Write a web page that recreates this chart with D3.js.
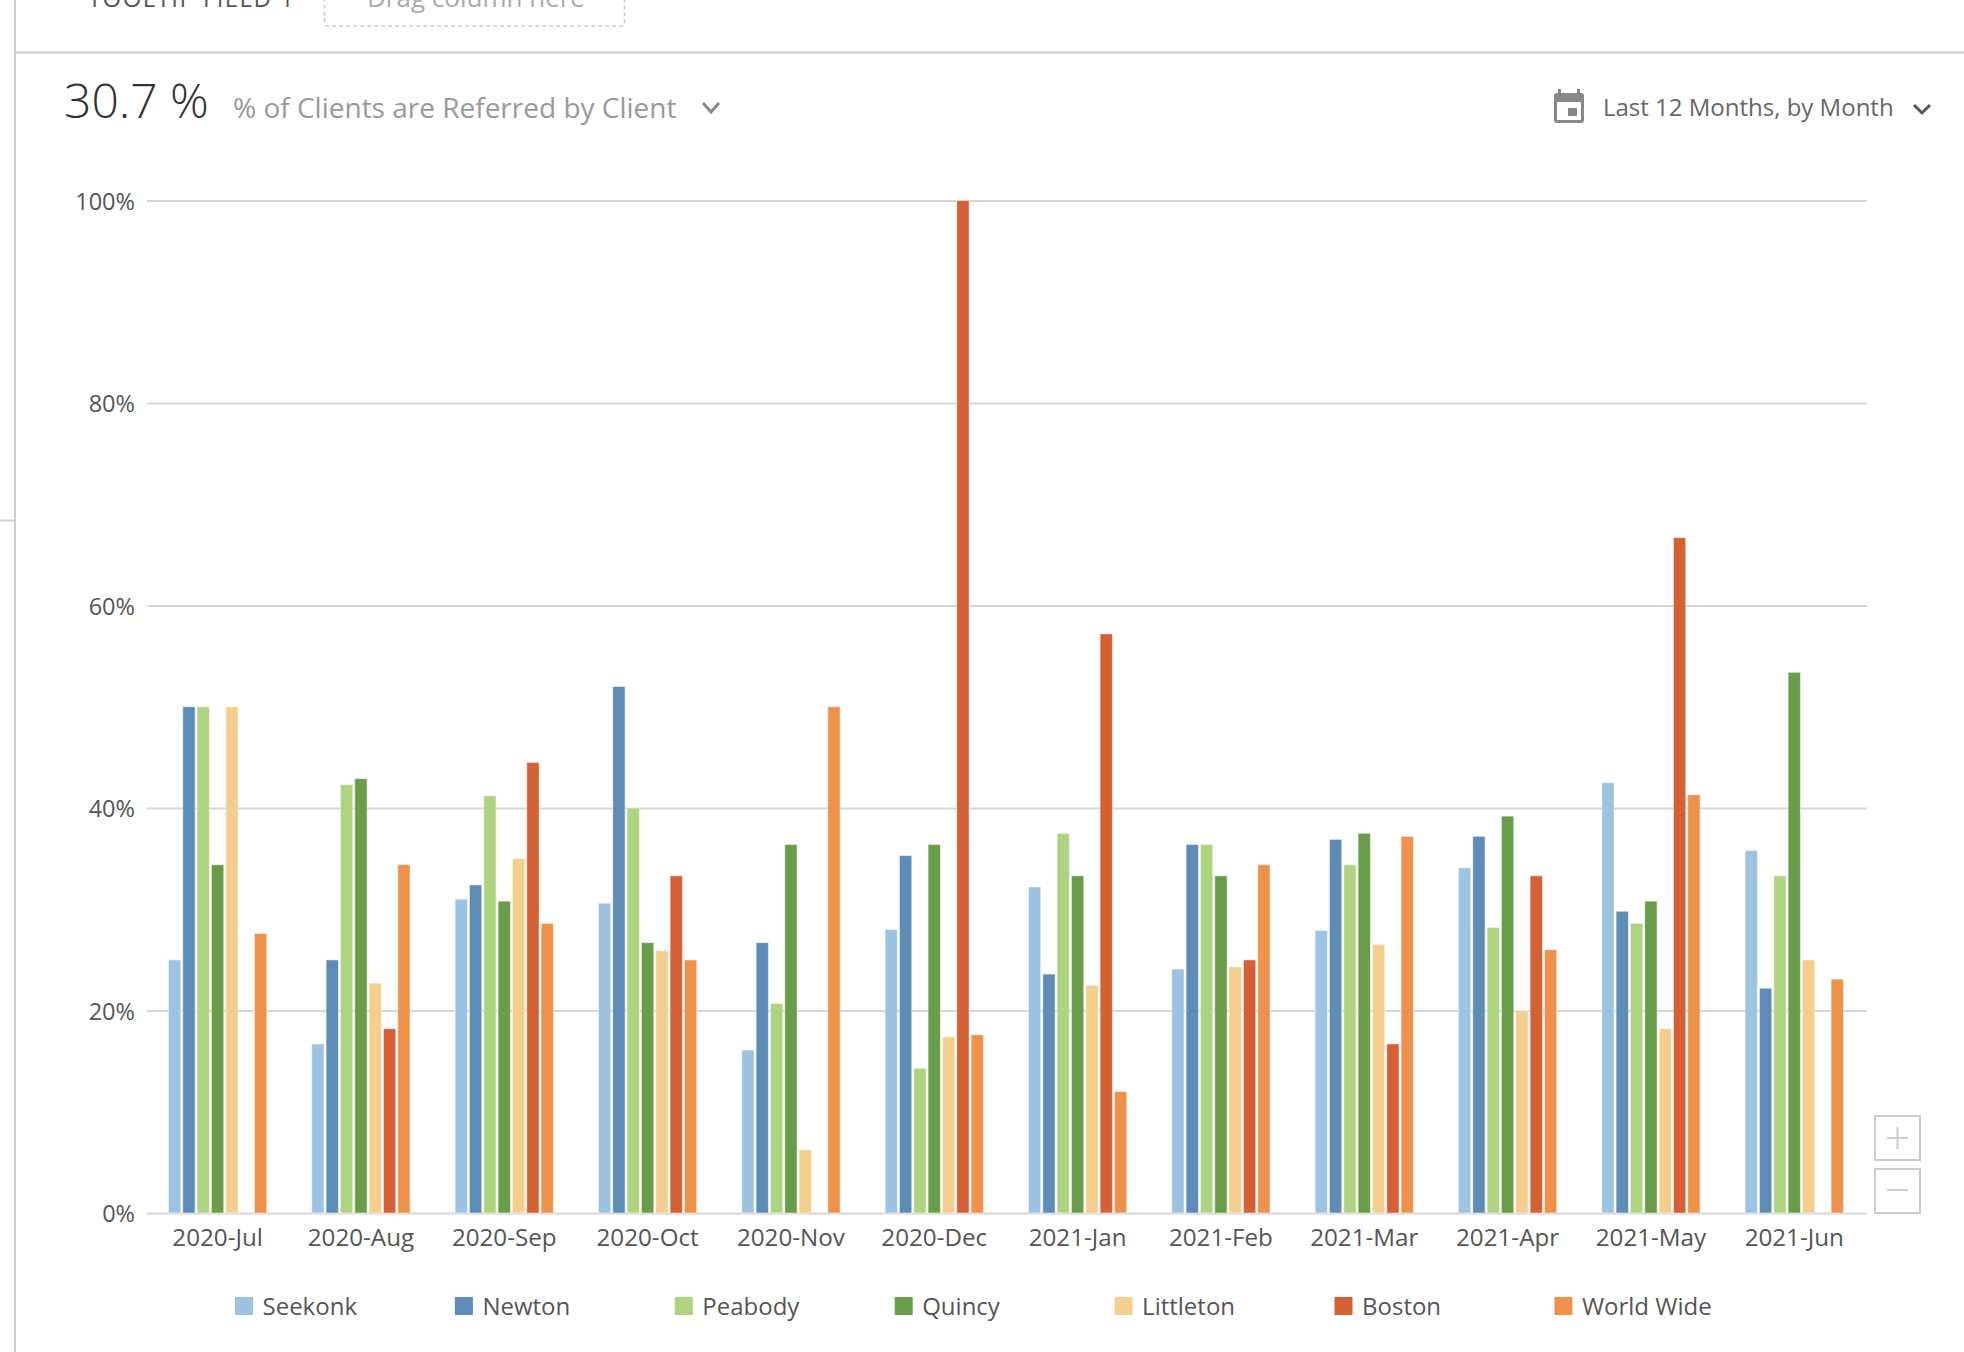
<!DOCTYPE html>
<html>
<head>
<meta charset="utf-8">
<script src="https://cdn.jsdelivr.net/npm/d3@7"></script>
<style>
  html, body { margin: 0; padding: 0; background: #fff; overflow: hidden; }
  text { font-family: "Open Sans", sans-serif; }
</style>
</head>
<body>
<svg id="canvas" width="1964" height="1352"></svg>
<script>
let months = ['2020-Jul', '2020-Aug', '2020-Sep', '2020-Oct', '2020-Nov', '2020-Dec',
              '2021-Jan', '2021-Feb', '2021-Mar', '2021-Apr', '2021-May', '2021-Jun']
let seriesNames = ['Seekonk', 'Newton', 'Peabody', 'Quincy', 'Littleton', 'Boston', 'World Wide']
let seriesColors = ['#9DC3E2', '#5D8CB6', '#AFD47F', '#6A9D4A', '#F5CE8E', '#D56035', '#EE914A']

let seekonk   = [25, 16.7, 31, 30.6, 16.1, 28, 32.2, 24.1, 27.9, 34.1, 42.5, 35.8]
let newton    = [50, 25, 32.4, 52, 26.7, 35.3, 23.6, 36.4, 36.9, 37.2, 29.8, 22.2]
let peabody   = [50, 42.3, 41.2, 40, 20.7, 14.3, 37.5, 36.4, 34.4, 28.2, 28.6, 33.3]
let quincy    = [34.4, 42.9, 30.8, 26.7, 36.4, 36.4, 33.3, 33.3, 37.5, 39.2, 30.8, 53.4]
let littleton = [50, 22.7, 35, 25.9, 6.25, 17.4, 22.5, 24.3, 26.5, 20, 18.2, 25]
let boston    = [0, 18.2, 44.5, 33.3, 0, 100, 57.2, 25, 16.7, 33.3, 66.7, 0]
let worldWide = [27.6, 34.4, 28.6, 25, 50, 17.6, 12, 34.4, 37.2, 26, 41.3, 23.1]
let seriesValues = [seekonk, newton, peabody, quincy, littleton, boston, worldWide]

let yTicks = [0, 20, 40, 60, 80, 100]

let canvas = d3.select('#canvas')

let plotLeft = 147, plotRight = 1867, plotTop = 200.5, plotBottom = 1213

let x0 = d3.scaleBand()
  .domain(months)
  .range([plotLeft, plotRight])
  .paddingInner(0.3)
  .paddingOuter(0.15)
  .align(0.475)

let x1 = d3.scaleBand()
  .domain(seriesNames)
  .range([0, x0.bandwidth()])
  .paddingInner(0.14)
  .paddingOuter(0.07)

let y = d3.scaleLinear().domain([0, 100]).range([plotBottom, plotTop])

// page chrome
canvas.append('line').attr('x1', 15).attr('x2', 15).attr('y1', 0).attr('y2', 1352)
  .attr('stroke', '#ccc').attr('stroke-width', 2)
canvas.append('line').attr('x1', 15).attr('x2', 1964).attr('y1', 52.5).attr('y2', 52.5)
  .attr('stroke', '#ccc').attr('stroke-width', 2)
canvas.append('line').attr('x1', 0).attr('x2', 15).attr('y1', 520.5).attr('y2', 520.5)
  .attr('stroke', '#ccc').attr('stroke-width', 2)
canvas.append('text').text('TOOLTIP FIELD 1')
  .attr('x', 88).attr('y', 7).attr('font-size', 24).attr('letter-spacing', 1.4).attr('fill', '#555')
canvas.append('rect').attr('x', 324.5).attr('y', -20).attr('width', 300).attr('height', 46)
  .attr('fill', 'none').attr('stroke', '#ccc').attr('stroke-width', 1.5)
  .attr('stroke-dasharray', '4 3').attr('rx', 2)
canvas.append('text').text('Drag column here')
  .attr('x', 367).attr('y', 7).attr('font-size', 26).attr('fill', '#aaa')

// header
canvas.append('text').text('30.7 %')
  .attr('x', 64).attr('y', 118).attr('font-size', 48).attr('font-weight', 300).attr('fill', '#333')
canvas.append('text').text('% of Clients are Referred by Client')
  .attr('x', 233).attr('y', 118).attr('font-size', 28).attr('fill', '#999')
canvas.append('text').text('Last 12 Months, by Month')
  .attr('x', 1603).attr('y', 116).attr('font-size', 24).attr('fill', '#666')

let chevron = d3.line()
canvas.append('path').attr('d', chevron([[703, 103], [711, 112], [719, 103]]))
  .attr('fill', 'none').attr('stroke', '#888').attr('stroke-width', 3)
canvas.append('path').attr('d', chevron([[1914, 105], [1922, 113], [1930, 105]]))
  .attr('fill', 'none').attr('stroke', '#555').attr('stroke-width', 3)

// calendar icon
let cal = canvas.append('g').attr('fill', '#888')
cal.append('rect').attr('x', 1554).attr('y', 93).attr('width', 30).attr('height', 30).attr('rx', 3)
cal.append('rect').attr('x', 1558).attr('y', 89).attr('width', 3).attr('height', 6)
cal.append('rect').attr('x', 1577).attr('y', 89).attr('width', 3).attr('height', 6)
cal.append('rect').attr('x', 1557).attr('y', 102).attr('width', 24).attr('height', 18).attr('fill', '#fff')
cal.append('rect').attr('x', 1568).attr('y', 108).attr('width', 9).attr('height', 8)

// axes
let yAxis = d3.axisLeft(y)
  .tickValues(yTicks)
  .tickFormat((d) => d + '%')
  .tickSize(-(plotRight - plotLeft))
  .tickPadding(12)

let yG = canvas.append('g').attr('transform', 'translate(' + plotLeft + ',0)').call(yAxis)
yG.select('.domain').remove()
yG.selectAll('.tick line').attr('stroke', '#d6d6d6').attr('stroke-width', 2.2)
yG.selectAll('.tick text').attr('font-size', 23.5).attr('fill', '#555').attr('y', 1)
  .style('font-family', '"Open Sans", sans-serif')

let xAxis = d3.axisBottom(x0).tickSize(0).tickPadding(16)
let xG = canvas.append('g').attr('transform', 'translate(0,' + plotBottom + ')').call(xAxis)
xG.select('.domain').remove()
xG.selectAll('.tick text').attr('font-size', 24.2).attr('fill', '#555')
  .style('font-family', '"Open Sans", sans-serif')

// bars
let groups = canvas.selectAll('.month')
  .data(months)
  .enter()
  .append('g')
  .attr('class', 'month')
  .attr('transform', (d) => 'translate(' + x0(d) + ',0)')

groups.selectAll('rect')
  .data((d, i) => seriesNames.map((name, s) => ({ name: name, color: seriesColors[s], value: seriesValues[s][i] })))
  .enter()
  .append('rect')
  .filter((d) => d.value > 0)
  .attr('x', (d) => x1(d.name))
  .attr('y', (d) => y(d.value))
  .attr('width', x1.bandwidth())
  .attr('height', (d) => y(0) - y(d.value))
  .attr('fill', (d) => d.color)
  .attr('stroke', '#fff')
  .attr('stroke-opacity', 0.5)
  .attr('stroke-width', 1)

// legend
let legendX = d3.scalePoint().domain(seriesNames).range([235, 235 + 219.9 * 6])
let legend = canvas.selectAll('.legend')
  .data(seriesNames)
  .enter()
  .append('g')
  .attr('class', 'legend')
  .attr('transform', (d) => 'translate(' + legendX(d) + ',1297)')
legend.append('rect').attr('width', 18).attr('height', 18)
  .attr('fill', (d, i) => seriesColors[i])
legend.append('text').text((d) => d)
  .attr('x', 27.5).attr('y', 18).attr('font-size', 24).attr('fill', '#555')

// zoom buttons
let zoomBtn = canvas.append('g').attr('fill', 'none').attr('stroke', '#ccc').attr('stroke-width', 2)
zoomBtn.append('rect').attr('x', 1875).attr('y', 1116).attr('width', 45).attr('height', 44)
zoomBtn.append('rect').attr('x', 1875).attr('y', 1169).attr('width', 45).attr('height', 44)
zoomBtn.append('path').attr('d', 'M1887,1138H1908M1897.5,1127V1149M1887,1190H1908')
</script>
</body>
</html>
